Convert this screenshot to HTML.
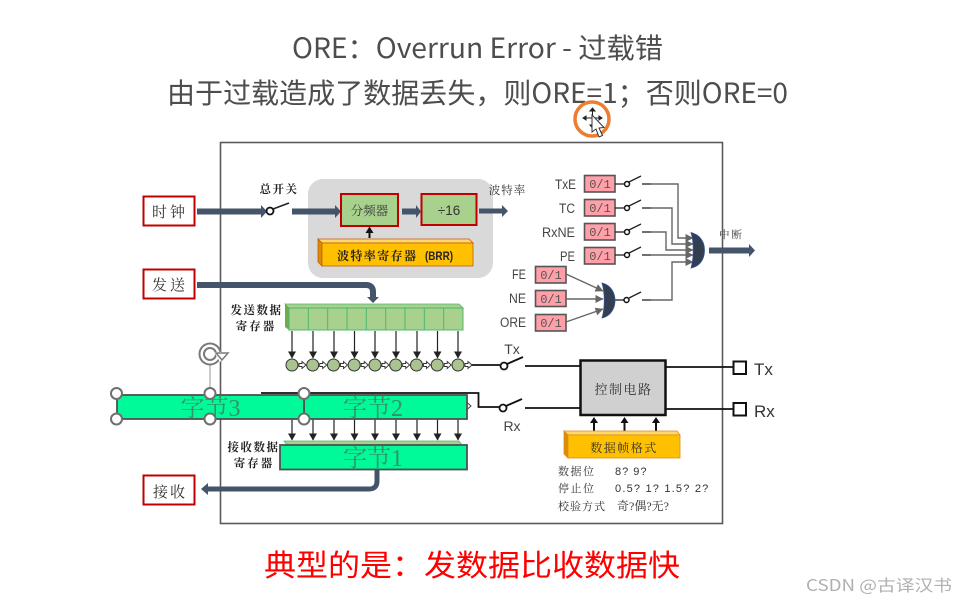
<!DOCTYPE html>
<html><head><meta charset="utf-8">
<style>
html,body{margin:0;padding:0;background:#fff;width:955px;height:604px;overflow:hidden}
svg{display:block;filter:blur(.35px)}
text{font-family:"Noto Sans CJK SC","Liberation Sans",sans-serif}
.s{font-family:"Liberation Serif","Noto Serif CJK SC",serif}
.m{font-family:"Liberation Mono",monospace}
.b{font-family:"Liberation Sans",sans-serif}
</style></head><body>
<svg width="955" height="604" viewBox="0 0 955 604" xmlns="http://www.w3.org/2000/svg">
<defs>
<marker id="g" markerWidth="8" markerHeight="8" refX="7.5" refY="4" orient="auto" markerUnits="userSpaceOnUse" viewBox="0 0 8 8"><path d="M0 0L8 4L0 8Z" fill="#666"/></marker>
<marker id="k" markerWidth="7" markerHeight="8" refX="6.5" refY="4" orient="auto" markerUnits="userSpaceOnUse" viewBox="0 0 7 8"><path d="M0 0L7 4L0 8Z" fill="#222"/></marker>
</defs>

<text x="477.500" y="58" font-size="28" fill="#4d4d4d" text-anchor="middle" textLength="371" lengthAdjust="spacingAndGlyphs">ORE：Overrun Error - 过载错</text>
<text x="477.500" y="103" font-size="28" fill="#4d4d4d" text-anchor="middle" textLength="621" lengthAdjust="spacingAndGlyphs">由于过载造成了数据丢失，则ORE=1；否则ORE=0</text>

<rect x="220.500" y="142.500" width="502" height="381" fill="#fff" stroke="#5a5a5a" stroke-width="1.600"/>

<!-- gray panel -->
<rect x="308" y="179" width="185" height="99" rx="15" fill="#d9d9d9"/>

<!-- input boxes -->
<g fill="#fff" stroke="#c00000" stroke-width="2">
<rect x="143.500" y="196.500" width="51" height="29"/>
<rect x="143.500" y="269.500" width="51" height="29"/>
<rect x="143.500" y="475.500" width="51" height="29"/>
</g>
<g font-size="15" fill="#333" text-anchor="middle">
<text class="s" x="170" y="217" letter-spacing="3">时钟</text>
<text class="s" x="170" y="290" letter-spacing="3">发送</text>
<text class="s" x="170" y="497" letter-spacing="2">接收</text>
</g>

<!-- thick arrows -->
<g fill="#44546a">
<path d="M197 208.500H261V205L267 211.500L261 218V214.500H197Z"/>
<path d="M292 208.500H335V205L341 211.500L335 218V214.500H292Z"/>
<path d="M402 208.500H416V205L421 211.500L416 218V214.500H402Z"/>
<path d="M479 208.500H502V205L508 211L502 217V213.500H479Z"/>
<path d="M709 247.500H749V244L755 250.500L749 257V253.500H709Z"/>
</g>
<path d="M197 285H366Q373 285 373 292V298" fill="none" stroke="#44546a" stroke-width="6"/>
<path d="M367 297H379L373 303Z" fill="#44546a"/>
<path d="M377 469V481Q377 489 369 489H207" fill="none" stroke="#44546a" stroke-width="5"/>
<path d="M208 483V495L201 489Z" fill="#44546a"/>

<!-- main switch -->
<circle cx="270" cy="211" r="3.500" fill="#fff" stroke="#111" stroke-width="1.800"/>
<line x1="273" y1="209" x2="289" y2="203" stroke="#222" stroke-width="1.500"/>
<text class="s" x="279" y="193" font-size="11.500" fill="#222" text-anchor="middle" font-weight="bold" letter-spacing="1.500">总开关</text>
<text class="s" x="507.500" y="194" font-size="11.500" fill="#333" text-anchor="middle" letter-spacing="1">波特率</text>

<!-- divider boxes -->
<rect x="341" y="194" width="57" height="32" fill="#a9d18e" stroke="#c00000" stroke-width="2"/>
<rect x="421.500" y="194" width="55" height="31" fill="#a9d18e" stroke="#c00000" stroke-width="2"/>
<text class="s" x="369.500" y="215" font-size="12.500" fill="#333" text-anchor="middle">分频器</text>
<text class="b" x="449" y="215" font-size="13.500" fill="#333" text-anchor="middle">÷16</text>
<path d="M369.500 238V232" stroke="#111" stroke-width="2"/>
<path d="M365.500 233L369.500 226.500L373.500 233Z" fill="#111"/>

<!-- BRR -->
<path d="M318 239H469L473 243H322Z" fill="#ffd966" stroke="#c55a11" stroke-width=".8"/>
<path d="M318 239L322 243V266L318 262Z" fill="#d98e00" stroke="#c55a11" stroke-width=".8"/>
<rect x="322" y="243" width="151" height="23" fill="#ffc000" stroke="#c55a11" stroke-width=".8"/>
<text class="s" x="337" y="260" font-size="12" font-weight="bold" fill="#222" letter-spacing="1.400">波特率寄存器</text>
<text class="b" x="425" y="260" font-size="11.500" font-weight="bold" fill="#222" textLength="28" lengthAdjust="spacingAndGlyphs">(BRR)</text>

<!-- send reg -->
<path d="M285 304H459L463 308H289Z" fill="#a9d18e" stroke="#4cb870" stroke-width=".8"/>
<path d="M285 304L289 308V330L285 327Z" fill="#70ad47"/>
<rect x="289" y="308" width="174" height="22" fill="#a9d18e" stroke="#4cb870" stroke-width="1"/>
<g stroke="#4cb870" stroke-width="1">
<line x1="308.300" y1="308" x2="308.300" y2="330"/><line x1="327.700" y1="308" x2="327.700" y2="330"/><line x1="347" y1="308" x2="347" y2="330"/><line x1="366.300" y1="308" x2="366.300" y2="330"/><line x1="385.700" y1="308" x2="385.700" y2="330"/><line x1="405" y1="308" x2="405" y2="330"/><line x1="424.300" y1="308" x2="424.300" y2="330"/><line x1="443.700" y1="308" x2="443.700" y2="330"/>
</g>
<text class="s" x="256.500" y="314" font-size="11.500" font-weight="bold" fill="#222" text-anchor="middle" letter-spacing="1.500">发送数据</text>
<text class="s" x="256" y="330" font-size="11.500" font-weight="bold" fill="#222" text-anchor="middle" letter-spacing="2">寄存器</text>

<!-- arrows to shift reg -->
<g stroke="#222" stroke-width="1.200">
<line x1="292" y1="331" x2="292" y2="358" marker-end="url(#k)"/>
<line x1="313" y1="331" x2="313" y2="358" marker-end="url(#k)"/>
<line x1="334" y1="331" x2="334" y2="358" marker-end="url(#k)"/>
<line x1="354.500" y1="331" x2="354.500" y2="358" marker-end="url(#k)"/>
<line x1="375" y1="331" x2="375" y2="358" marker-end="url(#k)"/>
<line x1="396" y1="331" x2="396" y2="358" marker-end="url(#k)"/>
<line x1="417" y1="331" x2="417" y2="358" marker-end="url(#k)"/>
<line x1="437.500" y1="331" x2="437.500" y2="358" marker-end="url(#k)"/>
<line x1="458" y1="331" x2="458" y2="358" marker-end="url(#k)"/>
</g>
<!-- shift reg -->
<path d="M471 365H500" stroke="#111" stroke-width="1.800"/>
<g fill="#a9c48e" stroke="#333" stroke-width="1">
<circle cx="292" cy="365" r="6"/><circle cx="312.700" cy="365" r="6"/><circle cx="333.500" cy="365" r="6"/><circle cx="354.200" cy="365" r="6"/><circle cx="375" cy="365" r="6"/><circle cx="395.700" cy="365" r="6"/><circle cx="416.500" cy="365" r="6"/><circle cx="437.200" cy="365" r="6"/><circle cx="458" cy="365" r="6"/>
</g>
<g fill="#fff" stroke="#333" stroke-width=".9">
<path d="M299 363.500h3v-2l4 3.500l-4 3.500v-2h-3Z"/>
<path d="M319.700 363.500h3v-2l4 3.500l-4 3.500v-2h-3Z"/>
<path d="M340.500 363.500h3v-2l4 3.500l-4 3.500v-2h-3Z"/>
<path d="M361.200 363.500h3v-2l4 3.500l-4 3.500v-2h-3Z"/>
<path d="M382 363.500h3v-2l4 3.500l-4 3.500v-2h-3Z"/>
<path d="M402.700 363.500h3v-2l4 3.500l-4 3.500v-2h-3Z"/>
<path d="M423.500 363.500h3v-2l4 3.500l-4 3.500v-2h-3Z"/>
<path d="M444.200 363.500h3v-2l4 3.500l-4 3.500v-2h-3Z"/>
<path d="M465 363.500h3v-2l4 3.500l-4 3.500v-2h-3Z"/>
</g>

<!-- receive line -->
<path d="M261 393H478.500V407H500" fill="none" stroke="#111" stroke-width="1.800"/>
<path d="M467 402.500l4 3.500l-4 3.500Z" fill="#fff" stroke="#333" stroke-width=".9"/>

<!-- receive arrows -->
<g stroke="#222" stroke-width="1.200">
<line x1="292" y1="419" x2="292" y2="440" marker-end="url(#k)"/>
<line x1="313" y1="419" x2="313" y2="440" marker-end="url(#k)"/>
<line x1="334" y1="419" x2="334" y2="440" marker-end="url(#k)"/>
<line x1="354.500" y1="419" x2="354.500" y2="440" marker-end="url(#k)"/>
<line x1="375" y1="419" x2="375" y2="440" marker-end="url(#k)"/>
<line x1="396" y1="419" x2="396" y2="440" marker-end="url(#k)"/>
<line x1="417" y1="419" x2="417" y2="440" marker-end="url(#k)"/>
<line x1="437.500" y1="419" x2="437.500" y2="440" marker-end="url(#k)"/>
<line x1="458" y1="419" x2="458" y2="440" marker-end="url(#k)"/>
</g>
<path d="M284 441H459L462 445H287Z" fill="#a9d18e" stroke="#4cb870" stroke-width=".8"/>

<!-- green byte boxes -->
<g fill="#00fa9a" stroke="#505050" stroke-width="1.800">
<rect x="280" y="445" width="187" height="24.500"/>
<rect x="304" y="395" width="163" height="24"/>
<rect x="117" y="395" width="187" height="24"/>
</g>
<g font-size="24" fill="#2f9568" text-anchor="middle">
<text class="s" x="210.500" y="416">字节3</text>
<text class="s" x="373" y="416">字节2</text>
<text class="s" x="373" y="466">字节1</text>
</g>
<text class="s" x="253.500" y="451" font-size="11.500" font-weight="bold" fill="#222" text-anchor="middle" letter-spacing="1.500">接收数据</text>
<text class="s" x="254" y="467" font-size="11.500" font-weight="bold" fill="#222" text-anchor="middle" letter-spacing="2">寄存器</text>

<!-- selection handles -->
<line x1="210" y1="365" x2="210" y2="392" stroke="#999" stroke-width="1"/>
<g fill="#fff" stroke="#6f6f6f" stroke-width="2">
<circle cx="116.500" cy="393.500" r="5.500"/><circle cx="210" cy="393.500" r="5.500"/><circle cx="304" cy="393.500" r="5.500"/>
<circle cx="116.500" cy="419" r="5.500"/><circle cx="210" cy="419" r="5.500"/><circle cx="304" cy="419" r="5.500"/>
</g>
<!-- rotate -->
<circle cx="210" cy="354" r="10.500" fill="#fff" stroke="#7a7a7a" stroke-width="2"/>
<circle cx="210" cy="354" r="6" fill="#fff" stroke="#7a7a7a" stroke-width="2"/>
<path d="M214 352L228 352L220 362Z" fill="#fff"/>
<path d="M216 353L228 353L222 360Z" fill="none" stroke="#7a7a7a" stroke-width="1.500"/>

<!-- TX/RX switches -->
<g stroke="#111" stroke-width="1.800" fill="none">
<circle cx="504" cy="366" r="3.500" fill="#fff"/>
<line x1="507" y1="364" x2="523" y2="357"/>
<line x1="525" y1="366" x2="580" y2="366"/>
<circle cx="503" cy="408" r="3.500" fill="#fff"/>
<line x1="506" y1="406" x2="522" y2="399"/>
<line x1="525" y1="408" x2="580" y2="408"/>
<line x1="666" y1="367" x2="733" y2="367"/>
<line x1="666" y1="409" x2="733" y2="409"/>
</g>
<rect x="733.500" y="361.500" width="12.500" height="12.500" fill="#fff" stroke="#111" stroke-width="2"/>
<rect x="733.500" y="403" width="12.500" height="12.500" fill="#fff" stroke="#111" stroke-width="2"/>
<text class="b" x="754" y="375" font-size="17" fill="#333">Tx</text>
<text class="b" x="754" y="417" font-size="17" fill="#333">Rx</text>
<text class="b" x="512" y="354" font-size="14" fill="#444" text-anchor="middle">Tx</text>
<text class="b" x="512" y="431" font-size="14" fill="#444" text-anchor="middle">Rx</text>

<!-- control -->
<rect x="580.500" y="360.500" width="85" height="54.500" fill="#d0d0d0" stroke="#111" stroke-width="2.500"/>
<text class="s" x="623.500" y="394" font-size="13" fill="#333" text-anchor="middle" letter-spacing="1.500">控制电路</text>
<g fill="#111" stroke="#111">
<path d="M594 435V422" stroke-width="2"/><path d="M590 423L594 417L598 423Z" stroke="none"/>
<path d="M624.500 435V422" stroke-width="2"/><path d="M620.500 423L624.500 417L628.500 423Z" stroke="none"/>
<path d="M656 435V422" stroke-width="2"/><path d="M652 423L656 417L660 423Z" stroke="none"/>
</g>
<path d="M564 431H677L680 435H568Z" fill="#ffd966" stroke="#e08a1e" stroke-width=".8"/>
<path d="M564 431L568 435V458L564 454Z" fill="#d98e00" stroke="#e08a1e" stroke-width=".8"/>
<rect x="568" y="435" width="112" height="23" fill="#ffc000" stroke="#e08a1e" stroke-width=".8"/>
<text class="s" x="624" y="452" font-size="12" fill="#333" text-anchor="middle" letter-spacing="1.500">数据帧格式</text>

<g font-size="11" fill="#333">
<text class="s" x="558" y="475" letter-spacing="1.500">数据位</text>
<text class="b" x="615" y="475" letter-spacing="1">8? 9?</text>
<text class="s" x="558" y="492" letter-spacing="1.500">停止位</text>
<text class="b" x="615" y="492" letter-spacing="1.200">0.5? 1? 1.5? 2?</text>
<text class="s" x="558" y="510" letter-spacing="1">校验方式</text>
<text class="s" x="617" y="510" font-size="12">奇?偶?无?</text>
</g>

<!-- flags -->
<g fill="#ff9fa8" stroke="#555" stroke-width="1.600">
<rect x="584.500" y="175.500" width="30.500" height="16.500"/>
<rect x="584.500" y="199.500" width="30.500" height="16.500"/>
<rect x="584.500" y="223.500" width="30.500" height="16.500"/>
<rect x="584.500" y="247.500" width="30.500" height="16.500"/>
<rect x="535.500" y="266.500" width="30.500" height="16.500"/>
<rect x="535.500" y="290.500" width="30.500" height="16"/>
<rect x="535.500" y="314.500" width="30.500" height="16.500"/>
</g>
<g font-size="12" fill="#555" text-anchor="middle">
<text class="m" x="600" y="188">0/1</text>
<text class="m" x="600" y="212">0/1</text>
<text class="m" x="600" y="236">0/1</text>
<text class="m" x="600" y="260">0/1</text>
<text class="m" x="551" y="279">0/1</text>
<text class="m" x="551" y="303">0/1</text>
<text class="m" x="551" y="327">0/1</text>
</g>
<g font-size="13.500" fill="#444" text-anchor="end">
<text class="b" x="576" y="189" textLength="21" lengthAdjust="spacingAndGlyphs">TxE</text>
<text class="b" x="575" y="213" textLength="16" lengthAdjust="spacingAndGlyphs">TC</text>
<text class="b" x="575" y="237" textLength="33" lengthAdjust="spacingAndGlyphs">RxNE</text>
<text class="b" x="575" y="261" textLength="15" lengthAdjust="spacingAndGlyphs">PE</text>
<text class="b" x="526" y="279" textLength="14" lengthAdjust="spacingAndGlyphs">FE</text>
<text class="b" x="526" y="303" textLength="17" lengthAdjust="spacingAndGlyphs">NE</text>
<text class="b" x="526" y="327" textLength="26" lengthAdjust="spacingAndGlyphs">ORE</text>
</g>

<!-- flag switches -->
<g stroke="#222" stroke-width="1.300" fill="none">
<line x1="615" y1="184" x2="624" y2="184"/><line x1="615" y1="208" x2="624" y2="208"/><line x1="615" y1="232" x2="624" y2="232"/><line x1="615" y1="255" x2="624" y2="255"/><line x1="615" y1="300" x2="624" y2="300"/>
<line x1="629" y1="182" x2="641" y2="176"/><line x1="629" y1="206" x2="641" y2="200"/><line x1="629" y1="230" x2="641" y2="224"/><line x1="629" y1="253" x2="641" y2="247"/><line x1="629" y1="298" x2="641" y2="292"/>
<line x1="642" y1="184" x2="651" y2="184"/><line x1="642" y1="208" x2="651" y2="208"/><line x1="642" y1="232" x2="651" y2="232"/><line x1="642" y1="255" x2="651" y2="255"/><line x1="642" y1="300" x2="651" y2="300"/>
<g fill="#fff" stroke="#111" stroke-width="1.500">
<circle cx="627" cy="184" r="2.500"/><circle cx="627" cy="208" r="2.500"/><circle cx="627" cy="232" r="2.500"/><circle cx="627" cy="255" r="2.500"/><circle cx="626.500" cy="300" r="2.500"/>
</g>
</g>
<g fill="none" stroke="#666" stroke-width="1.400">
<path d="M651 184H678V238H693" marker-end="url(#g)"/>
<path d="M651 208H672V244H693" marker-end="url(#g)"/>
<path d="M651 232H666V250H693" marker-end="url(#g)"/>
<path d="M651 255H693" marker-end="url(#g)"/>
<path d="M651 300H672V262H693" marker-end="url(#g)"/>
<path d="M566 274L603 291" marker-end="url(#g)"/>
<path d="M566 299H603" marker-end="url(#g)"/>
<path d="M566 322L603 309" marker-end="url(#g)"/>
</g>
<!-- gates -->
<path d="M691 232.500C701 235 704.500 243 704.500 250C704.500 258 701 266 691 268C694 258 694 242 691 232.500Z" fill="#333f50" stroke="#2f5597" stroke-width=".8"/>
<path d="M602 283C611 285 615 293 615 300.500C615 308 611 316 602 318C605 308 605 293 602 283Z" fill="#333f50" stroke="#2f5597" stroke-width=".8"/>
<text class="s" x="731.500" y="238" font-size="10.500" fill="#333" text-anchor="middle" letter-spacing="2">中断</text>

<!-- cursor indicator -->
<circle cx="592" cy="119" r="17" fill="#fff" stroke="#ed7d31" stroke-width="3.500"/>
<g fill="#222" stroke="#222" stroke-width="1">
<path d="M592.500 111V127M585 118H601" fill="none"/>
<path d="M590 111L592.500 108L595 111Z"/><path d="M590 125L592.500 128L595 125Z"/><path d="M586 116L583 118L586 120Z"/><path d="M599 116L602 118L599 120Z"/>
</g>
<path d="M592 115L592 132L596 129L599 137L602.500 135.500L599 128L604 127.500Z" fill="#fff" stroke="#333" stroke-width="1"/>

<text x="472" y="576" font-size="30" fill="#ff0000" text-anchor="middle" textLength="416" lengthAdjust="spacingAndGlyphs">典型的是：发数据比收数据快</text>
<text x="879" y="591" font-size="16" fill="#b0b0b0" text-anchor="middle" textLength="146" lengthAdjust="spacingAndGlyphs">CSDN @古译汉书</text>
</svg>
</body></html>
